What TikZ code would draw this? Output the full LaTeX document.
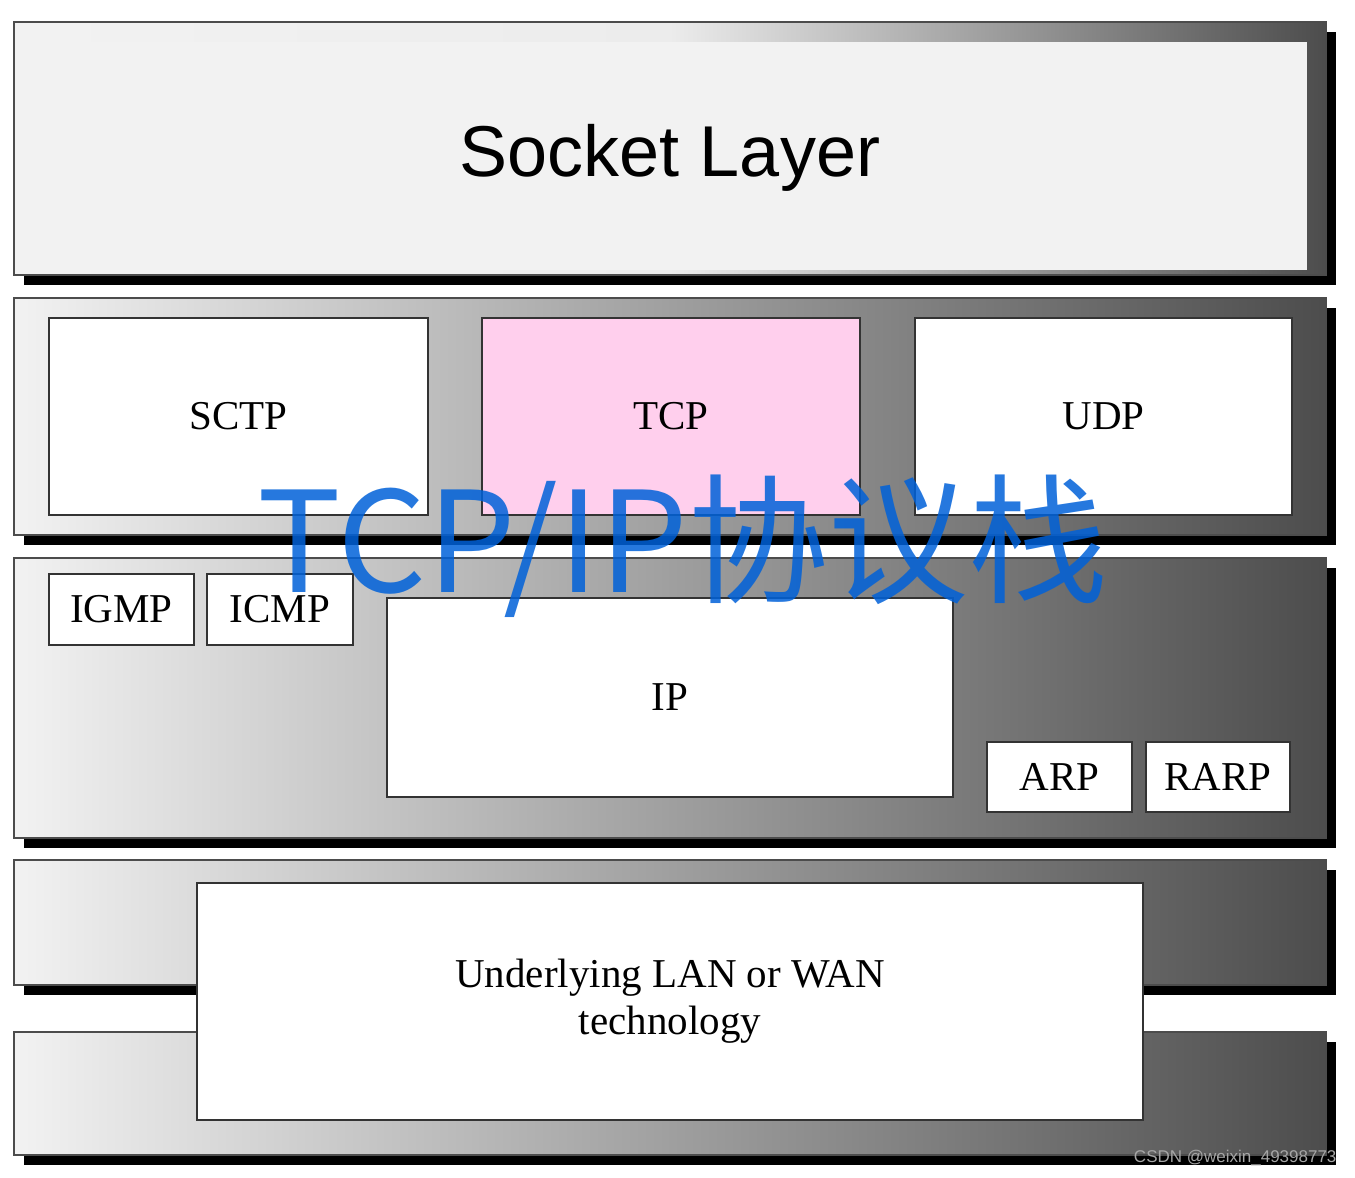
\documentclass[tikz,border=0pt]{standalone}
\usepackage{fontspec}
\setmainfont{Liberation Serif}
\newfontfamily\sansf{Liberation Sans}
\newfontfamily\cjk{Noto Sans CJK SC}
\begin{document}
\begin{tikzpicture}[x=1pt,y=-1pt,
  layer/.style={draw=black!70,line width=1.5pt,left color=gray!10,middle color=gray!30,right color=black!70,shading angle=90},
  box/.style={draw=black!80,line width=1.5pt,fill=white,font=\fontsize{41}{45}\selectfont}]
\useasboundingbox (0,0) rectangle (1355,1178);
% shadows
\foreach \a/\b in {22/275,298/535,558/838,860/985,1032/1155}
  \fill (24,\a+10) rectangle (1336,\b+10);
% layers
\shade[layer,middle color=gray!15] (14,22) rectangle (1326,275);
\fill[gray!10] (32,42) rectangle (1307,270);
\node[font=\sansf\fontsize{72}{80}\selectfont] (sock) at (670,158) {Socket Layer};
\shade[layer] (14,298) rectangle (1326,535);
\shade[layer] (14,558) rectangle (1326,838);
\shade[layer] (14,860) rectangle (1326,985);
\shade[layer] (14,1032) rectangle (1326,1155);
% boxes
\node[box,minimum width=379,minimum height=197] (sctp) at (238.5,416.5) {SCTP};
\node[box,fill=pink!70!magenta!40,minimum width=378,minimum height=197] (tcp) at (671,416.5) {TCP};
\node[box,minimum width=377,minimum height=197] (udp) at (1103.5,416.5) {UDP};
\node[box,minimum width=145,minimum height=71] (igmp) at (121.5,609.5) {IGMP};
\node[box,minimum width=146,minimum height=71] (icmp) at (280,609.5) {ICMP};
\node[box,minimum width=566,minimum height=199] (ip) at (670,697.5) {IP};
\node[box,minimum width=145,minimum height=70] (arp) at (1059.5,777) {ARP};
\node[box,minimum width=144,minimum height=70] (rarp) at (1218,777) {RARP};
\node[box,minimum width=946,minimum height=237,align=center,font=\fontsize{41}{47}\selectfont] (lan) at (670,1001.5) {Underlying LAN or WAN\\technology};
% watermarks
\node[text=blue!55!cyan!85!black,opacity=0.85,font=\cjk\fontsize{140}{142}\selectfont] (wm) at (683,546) {TCP/IP协议栈};
\node[text=gray!70,font=\sansf\fontsize{17}{18}\selectfont,anchor=east] (csdn) at (1340,1158) {CSDN @weixin\_49398773};
\end{tikzpicture}
\end{document}
